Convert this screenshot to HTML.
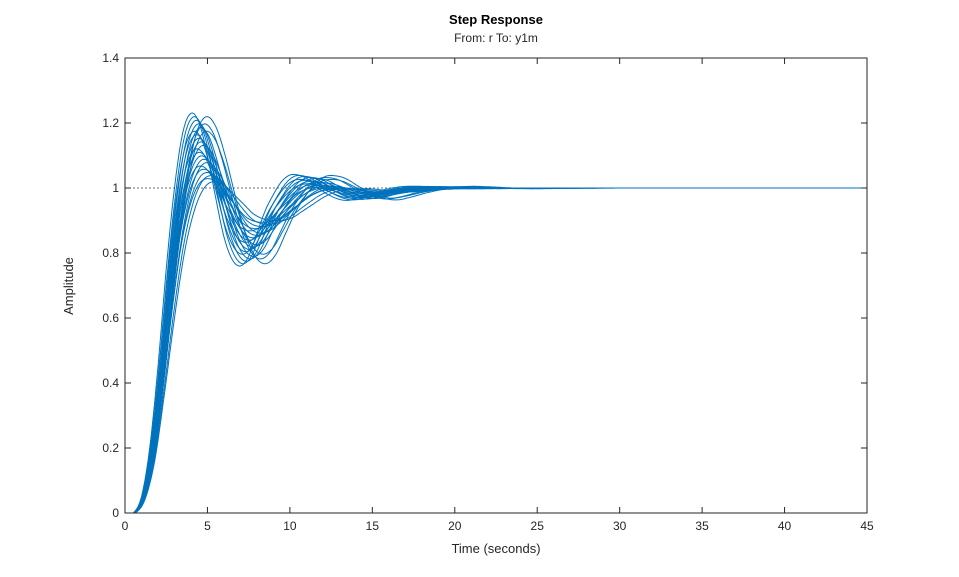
<!DOCTYPE html>
<html><head><meta charset="utf-8"><style>
html,body{margin:0;padding:0;background:#fff;}
svg{display:block;font-family:"Liberation Sans",Arial,sans-serif;}
</style></head><body>
<svg id="chart" width="959" height="577" viewBox="0 0 959 577">
<text x="496" y="24" text-anchor="middle" font-size="13" font-weight="bold" fill="#000">Step Response</text>
<text x="496" y="42" text-anchor="middle" font-size="12" fill="#262626">From: r  To: y1m</text>
<text x="496" y="553" text-anchor="middle" font-size="13" fill="#262626">Time (seconds)</text>
<text transform="translate(73,286) rotate(-90)" text-anchor="middle" font-size="13" fill="#262626">Amplitude</text>
<g id="plot"></g>
</svg>
<script>
const xTicks=[0,5,10,15,20,25,30,35,40,45];
const yTicks=[0,0.2,0.4,0.6,0.8,1,1.2,1.4];
const yTickLabels=["0","0.2","0.4","0.6","0.8","1","1.2","1.4"];
const sampleTimes=[0,0.5,1,1.5,2,2.5,3,3.5,4,4.5,5,5.5,6,6.5,7,7.5,8,8.5,9,9.5,10,10.5,11,11.5,12,12.5,13,13.5,14,15,16,17,18,20,22,25,30,45];
const fastResponse=[0,0,0.05,0.2,0.45,0.75,1.0,1.17,1.23,1.2,1.1,0.97,0.85,0.78,0.76,0.79,0.86,0.93,0.98,1.02,1.04,1.04,1.03,1.01,0.99,0.975,0.965,0.962,0.968,0.985,0.998,1.005,1.004,0.998,0.999,1.0,1.0,1.0];
const slowResponse=[0,0,0.04,0.16,0.37,0.6,0.8,0.93,1.0,1.02,1.01,0.98,0.95,0.92,0.905,0.9,0.9,0.91,0.93,0.95,0.97,0.985,0.993,0.997,0.998,0.997,0.994,0.99,0.988,0.99,0.995,0.998,1.0,1.0,1.0,1.0,1.0,1.0];
const mixWeights=[1,0.95,0.9,0.85,0.8,0.75,0.7,0.65,0.6,0.55,0.5,0.45,0.4,0.35,0.3,0.25,0.2,0.15,0.1,0.05,0,0.95,0.85,0.75];
const timeScales=[1,1.03,1.06,1.09,1.12,1.02,1.05,1.08,1.11,1.14,1.04,1.07,1.1,1.13,1.16,1.06,1.1,1.14,1.18,1.12,1.2,1.22,1.18,1.2];
const L=125,R=867,T=58,B=513;
const sx=v=>L+(v-0)/(45-0)*(R-L);
const sy=v=>B-(v-0)/(1.4-0)*(B-T);
const NS="http://www.w3.org/2000/svg";
const plot=document.getElementById('plot');
function mk(tag,attrs){const e=document.createElementNS(NS,tag);for(const k in attrs)e.setAttribute(k,attrs[k]);return e;}
function interp(arr,t){
  if(t<=sampleTimes[0])return arr[0];
  for(let i=1;i<sampleTimes.length;i++){
    if(t<=sampleTimes[i]){
      const t0=sampleTimes[i-1],t1=sampleTimes[i];
      const p0=arr[Math.max(i-2,0)],p1=arr[i-1],p2=arr[i],p3=arr[Math.min(i+1,arr.length-1)];
      const u=(t-t0)/(t1-t0);
      const u2=u*u,u3=u2*u;
      return 0.5*((2*p1)+(-p0+p2)*u+(2*p0-5*p1+4*p2-p3)*u2+(-p0+3*p1-3*p2+p3)*u3);
    }
  }
  return arr[arr.length-1];
}
const ref=mk('line',{x1:L,x2:R,y1:sy(1),y2:sy(1),stroke:'#404040','stroke-width':0.8,'stroke-dasharray':'2,2'});


plot.appendChild(ref);
const clip=mk('clipPath',{id:'cp'});clip.appendChild(mk('rect',{x:L,y:T,width:R-L,height:B-T}));plot.appendChild(clip);
const cg=mk('g',{'clip-path':'url(#cp)'});plot.appendChild(cg);
mixWeights.forEach((w,ci)=>{
  const s=timeScales[ci];let d='';
  for(let t=0;t<=45;t+=0.1){
    const tt=t/s;
    const v=w*interp(fastResponse,tt)+(1-w)*interp(slowResponse,tt);
    d+=(d?'L':'M')+sx(t).toFixed(1)+','+sy(v).toFixed(1);
  }
  const p=mk('path',{d:d,fill:'none',stroke:'#0072BD','stroke-width':1});
  
  
  cg.appendChild(p);
});
const box=mk('rect',{x:L,y:T,width:R-L,height:B-T,fill:'none',stroke:'#262626','stroke-width':1});


plot.appendChild(box);
xTicks.forEach(v=>{
  const x=sx(v);
  plot.appendChild(mk('line',{x1:x,x2:x,y1:B,y2:B-6,stroke:'#262626'}));
  plot.appendChild(mk('line',{x1:x,x2:x,y1:T,y2:T+6,stroke:'#262626'}));
  const tx=mk('text',{x:x,y:B+17,'text-anchor':'middle','font-size':12,fill:'#262626'});
  tx.textContent=String(v);
  
  
  plot.appendChild(tx);
});
yTicks.forEach((v,i)=>{
  const y=sy(v);
  plot.appendChild(mk('line',{x1:L,x2:L+6,y1:y,y2:y,stroke:'#262626'}));
  plot.appendChild(mk('line',{x1:R,x2:R-6,y1:y,y2:y,stroke:'#262626'}));
  const tx=mk('text',{x:L-6,y:y+4,'text-anchor':'end','font-size':12,fill:'#262626'});
  tx.textContent=yTickLabels[i];
  
  
  plot.appendChild(tx);
});
</script>
</body></html>
